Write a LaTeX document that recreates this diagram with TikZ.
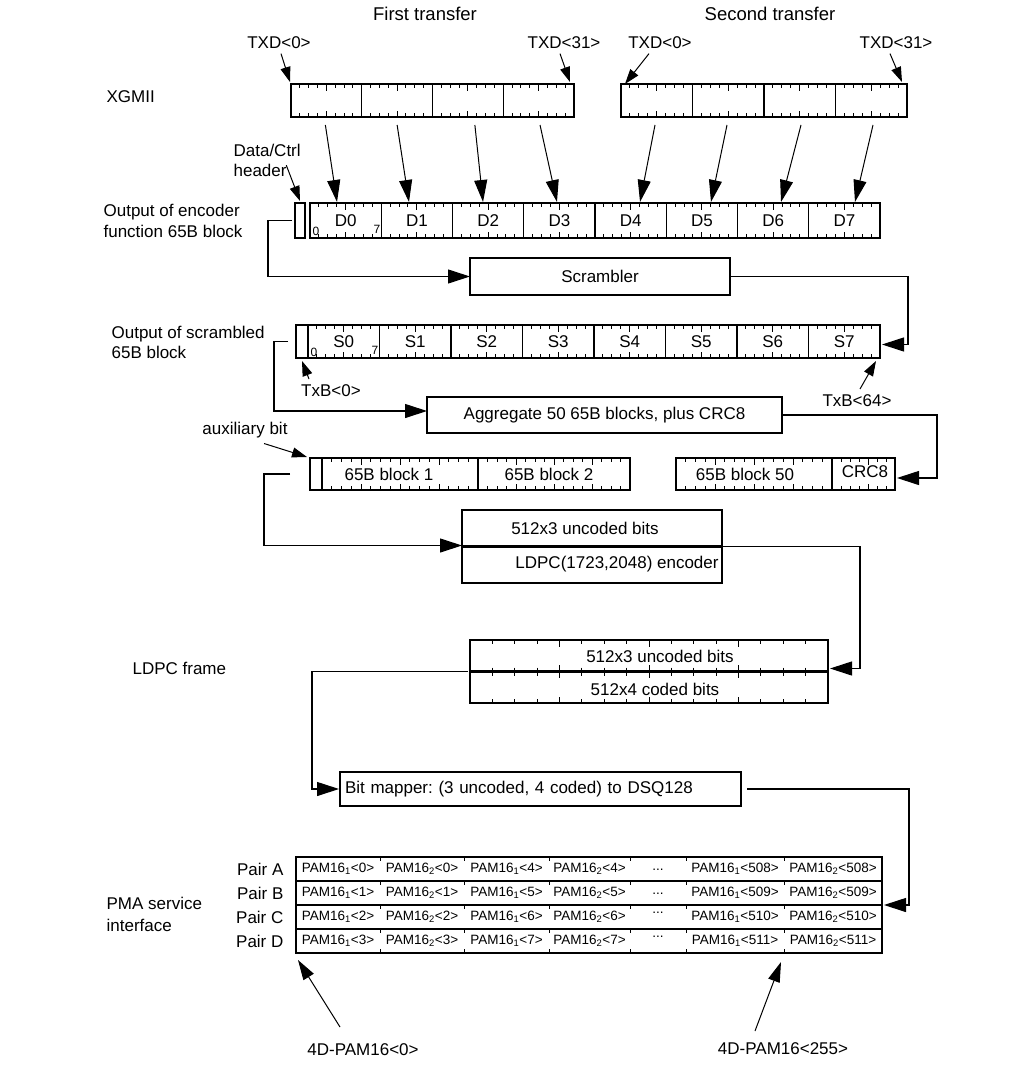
\documentclass[tikz,border=0pt]{standalone}
\usepackage{fontspec}
\setmainfont{Liberation Sans}
\usetikzlibrary{arrows.meta}
\frenchspacing
% tick marks inside a bit field: x0, x1, ytop, ybottom, segments
\newcommand{\tkrow}[5]{%
  \pgfmathtruncatemacro\tkn{#5-1}%
  \foreach \i in {1,...,\tkn}{%
    \pgfmathsetmacro\tkx{#1+\i*(#2-#1)/#5}%
    \pgfmathsetmacro\tkl{mod(\i,4)==0 ? 6.5 : 4}%
    \draw[tick] (\tkx,#3) -- ++(0,\tkl) (\tkx,#4) -- ++(0,-\tkl);
  }}
\begin{document}
\begin{tikzpicture}[x=1pt,y=-1pt,line width=1.2pt,line join=miter,
  lab/.style={inner sep=0pt,font=\fontsize{17}{20}\selectfont},
  ttl/.style={inner sep=0pt,font=\fontsize{18.5}{22}\selectfont},
  pam/.style={inner sep=0pt,font=\fontsize{13.5}{16}\selectfont},
  tiny/.style={inner sep=0pt,font=\fontsize{12}{14}\selectfont},
  box/.style={draw,inner sep=0pt,outer sep=0pt},
  tick/.style={line width=1pt},
  thick2/.style={line width=2.2pt},
  arr/.style={line width=1.1pt,-{Triangle[length=22pt,width=14pt]}},
  darr/.style={line width=1pt,-{Triangle[length=22pt,width=13pt]}},
  barr/.style={line width=1pt,-{Triangle[length=20pt,width=12pt]}},
  sarr/.style={line width=1pt,-{Triangle[length=15pt,width=10pt]}}]
\useasboundingbox (0,0) rectangle (1022,1073);

% ---------------- XGMII ----------------
\node[ttl] (t1) at (425,14) {First transfer};
\node[ttl] (t2) at (770,14) {Second transfer};
\node[lab,anchor=west] (xg) at (106,97) {XGMII};
\node[lab] (txa) at (279,43) {TXD<0>};
\node[lab] (txb) at (564,43) {TXD<31>};
\node[lab] (txc) at (660,43) {TXD<0>};
\node[lab] (txd) at (896,43) {TXD<31>};
\foreach \k in {1,...,4}{
  \pgfmathsetmacro\cx{291+70.75*(\k-0.5)}
  \node[box,minimum width=70.75pt,minimum height=33pt] (x\k) at (\cx,100.5) {};
  \pgfmathsetmacro\xa{291+70.75*(\k-1)}\pgfmathsetmacro\xb{291+70.75*\k}
  \tkrow{\xa}{\xb}{84}{117}{8}
}
\foreach \k in {5,...,8}{
  \pgfmathsetmacro\cx{621+71.5*(\k-4.5)}
  \node[box,minimum width=71.5pt,minimum height=33pt] (x\k) at (\cx,100.5) {};
  \pgfmathsetmacro\xa{621+71.5*(\k-5)}\pgfmathsetmacro\xb{621+71.5*(\k-4)}
  \tkrow{\xa}{\xb}{84}{117}{8}
}
\draw[sarr] ([xshift=2pt,yshift=-4pt]txa.south) -- ([xshift=-1pt,yshift=2pt]x1.north west);
\draw[sarr] ([xshift=-4pt,yshift=-4pt]txb.south) -- ([xshift=-4pt,yshift=2pt]x4.north east);
\draw[sarr] ([xshift=-11pt,yshift=-4pt]txc.south) -- ([xshift=4pt,yshift=0pt]x5.north west);
\draw[sarr] ([xshift=-6pt,yshift=-4pt]txd.south) -- ([xshift=-5pt,yshift=2pt]x8.north east);

% ---------------- encoder output ----------------
\node[lab,anchor=west,align=left,font=\fontsize{17}{21}\selectfont] (encl) at (103,220.5) {Output of encoder\\function 65B block};
\node[lab,anchor=north west,align=left,font=\fontsize{17}{19.5}\selectfont] (dch) at (233,144) {Data/Ctrl\\header};
\node[box,minimum width=10pt,minimum height=35pt] (hdr) at (300,220.5) {};
\foreach \k in {0,...,7}{
  \pgfmathsetmacro\cx{310+71.25*(\k+0.5)}
  \node[box,lab,minimum width=71.25pt,minimum height=35pt] (d\k) at (\cx,220.5) {D\k};
  \pgfmathsetmacro\xa{310+71.25*\k}\pgfmathsetmacro\xb{310+71.25*(\k+1)}
  \tkrow{\xa}{\xb}{203}{238}{8}
}
\node[tiny] (z0) at (316,231) {0};
\node[tiny] (z7) at (377,229) {7};
\draw[sarr] ([xshift=-15pt,yshift=12pt]dch.south east) -- ([yshift=2pt]hdr.north);
\foreach \k/\sx/\tx in {1/-1/-8.6,2/0/-7.9,3/7/-5.1,4/1.4/-2.4,5/-1.75/9.4,6/-1.25/9.1,7/1.25/7.9,8/1.75/10.6}{
  \pgfmathtruncatemacro\dk{\k-1}
  \draw[darr] ([xshift=\sx pt,yshift=-8pt]x\k.south) -- ([xshift=\tx pt,yshift=1pt]d\dk.north);
}

% ---------------- scrambler ----------------
\node[box,lab,minimum width=260pt,minimum height=37pt] (scr) at (600,276.5) {Scrambler};
\draw[arr] ([xshift=-3pt]hdr.west) -- ++(-24,0) |- (scr.west);

% ---------------- scrambled output ----------------
\node[lab,anchor=west,align=left,font=\fontsize{17}{19.5}\selectfont] (scl) at (111,342.5) {Output of scrambled\\65B block};
\node[box,minimum width=12pt,minimum height=33pt] (hdr2) at (302,341.5) {};
\foreach \k in {0,...,7}{
  \pgfmathsetmacro\cx{308+71.5*(\k+0.5)}
  \node[box,lab,minimum width=71.5pt,minimum height=33pt] (s\k) at (\cx,341.5) {S\k};
  \pgfmathsetmacro\xa{308+71.5*\k}\pgfmathsetmacro\xb{308+71.5*(\k+1)}
  \tkrow{\xa}{\xb}{325}{358}{8}
}
\draw[thick2] (hdr2.north east) -- (hdr2.south east);
\node[tiny] (y0) at (314,352) {0};
\node[tiny] (y7) at (375,350) {7};
\draw[arr] (scr.east) -- ++(178,0) |- ([xshift=2pt,yshift=-3pt]s7.east);
\node[lab] (txb0) at (331,391) {TxB<0>};
\node[lab] (txb64) at (857,401) {TxB<64>};
\draw[sarr] ([xshift=-22pt,yshift=12pt]txb0.center) -- ([yshift=-3pt]hdr2.south);
\draw[sarr] ([xshift=3pt,yshift=12pt]txb64.center) -- ([xshift=-4pt,yshift=-3pt]s7.south east);

% ---------------- aggregation ----------------
\node[box,lab,minimum width=355pt,minimum height=36pt] (agg) at (604.5,415) {Aggregate 50 65B blocks, plus CRC8};
\draw[arr] ([xshift=-8pt]hdr2.west) -- ++(-14,0) |- ([yshift=4pt]agg.west);
\node[lab] (auxl) at (245,430) {auxiliary bit};
\node[box,minimum width=12pt,minimum height=32pt] (auxc) at (316,474) {};
\node[box,minimum width=156pt,minimum height=32pt] (b1) at (400,474) {};
\node[box,minimum width=152pt,minimum height=32pt] (b2) at (554,474) {};
\node[box,minimum width=156pt,minimum height=32pt] (b50) at (754,474) {};
\node[box,minimum width=63pt,minimum height=32pt] (crc) at (863.5,474) {};
\draw[thick2] (auxc.north east) -- (auxc.south east);
\tkrow{322}{478}{458}{490}{16}
\tkrow{478}{630}{458}{490}{16}
\tkrow{676}{832}{458}{490}{16}
\tkrow{832}{895}{458}{490}{7}
\node[lab] (tb1) at (389,474) {65B block 1};
\node[lab] (tb2) at (549,474) {65B block 2};
\node[lab] (tb50) at (745,474) {65B block 50};
\node[lab] (tcrc) at (865,472) {CRC8};
\draw[sarr] ([xshift=-24pt,yshift=-5pt]auxl.south east) -- ([xshift=-3pt,yshift=1pt]auxc.north west);
\draw[arr] (agg.east) -- ++(155,0) |- ([xshift=2pt,yshift=-4pt]crc.east);

% ---------------- LDPC encoder ----------------
\node[box,minimum width=260pt,minimum height=73pt] (enc) at (592,546.5) {};
\draw[thick2] (enc.west) -- (enc.east);
\node[lab] (enc1) at (585,528) {512x3 uncoded bits};
\node[lab] (enc2) at (617,564) {LDPC(1723,2048) encoder};
\draw[arr] ([xshift=-20pt]auxc.west) -- ++(-26,0) |- ([yshift=1pt]enc.west);

% ---------------- LDPC frame ----------------
\node[lab,anchor=west] (ldl) at (132,668) {LDPC frame};
\node[box,minimum width=358pt,minimum height=63pt] (fr) at (649,671.5) {};
\draw[thick2] (fr.west) -- (fr.east);
\foreach \i in {1,...,15}{
  \pgfmathsetmacro\tkx{470+\i*358/16}
  \pgfmathsetmacro\tkl{mod(\i,4)==0 ? 6.5 : 4}
  \draw[tick] (\tkx,640) -- ++(0,\tkl) (\tkx,703) -- ++(0,-\tkl)
              (\tkx,671.5) ++(0,-\tkl) -- ++(0,2*\tkl);
}
\node[lab,fill=white,inner xsep=2pt] (fr1) at (660,656) {512x3 uncoded bits};
\node[lab,fill=white,inner xsep=2pt] (fr2) at (655,689) {512x4 coded bits};
\draw[arr] (enc.east) -- ++(138,0) |- ([xshift=2pt,yshift=3pt]fr.east);

% ---------------- bit mapper ----------------
\node[box,lab,minimum width=401pt,minimum height=34pt,text width=391pt,inner xsep=5pt,align=left] (bm) at (540.5,789) {Bit mapper: (3 uncoded, 4 coded) to DSQ128};
\draw[arr] ([xshift=-2pt]fr.west) -- ++(-156,0) |- ([xshift=-1pt]bm.west);

% ---------------- PMA service interface ----------------
\node[lab,anchor=west,align=left,font=\fontsize{17}{22}\selectfont] (pmal) at (106,914) {PMA service\\interface};
\node[box,minimum width=586pt,minimum height=96pt] (pma) at (589,905) {};
\draw (296,881) -- (882,881);
\draw[thick2] (296,905) -- (882,905);
\draw[thick2] (296,929) -- (882,929);
\foreach \cx in {380,464,549,630,686,784}{
  \foreach \ry in {857,881,905,929}{\draw[tick] (\cx,\ry) -- ++(0,4);}
  \draw[tick] (\cx,953) -- ++(0,-4);
}
\foreach \r/\pl in {0/A,1/B,2/C,3/D}{
  \pgfmathsetmacro\ry{869+24*\r}
  \pgfmathtruncatemacro\ra{\r+4}
  \pgfmathtruncatemacro\rb{\r+508}
  \node[lab,anchor=east] (pair\pl) at (284,\ry) {Pair \pl};
  \node[pam] (c\r a) at (338,\ry) {PAM16\textsubscript{1}<\r>};
  \node[pam] (c\r b) at (422,\ry) {PAM16\textsubscript{2}<\r>};
  \node[pam] (c\r c) at (506.5,\ry) {PAM16\textsubscript{1}<\ra>};
  \node[pam] (c\r d) at (589.5,\ry) {PAM16\textsubscript{2}<\ra>};
  \node[pam] (c\r f) at (735,\ry) {PAM16\textsubscript{1}<\rb>};
  \node[pam] (c\r g) at (833,\ry) {PAM16\textsubscript{2}<\rb>};
}
\node[pam] (e0) at (658,870) {...};
\node[pam] (e1) at (658,894) {...};
\node[pam] (e2) at (658,913) {...};
\node[pam] (e3) at (658,937) {...};
\draw[arr] ([xshift=6pt]bm.east) -- ++(162,0) |- ([xshift=2pt]pma.east);

% ---------------- 4D-PAM16 pointers ----------------
\coordinate (q784) at (784,953);
\node[lab] (p0) at (363,1050) {4D-PAM16<0>};
\node[lab] (p255) at (783,1049) {4D-PAM16<255>};
\draw[barr] ([xshift=-23pt,yshift=23pt]p0.center) -- ([xshift=2pt,yshift=-7pt]pma.south west);
\draw[barr] ([xshift=-28pt,yshift=18pt]p255.center) -- ([xshift=-3pt,yshift=-9pt]q784);
\end{tikzpicture}
\end{document}
